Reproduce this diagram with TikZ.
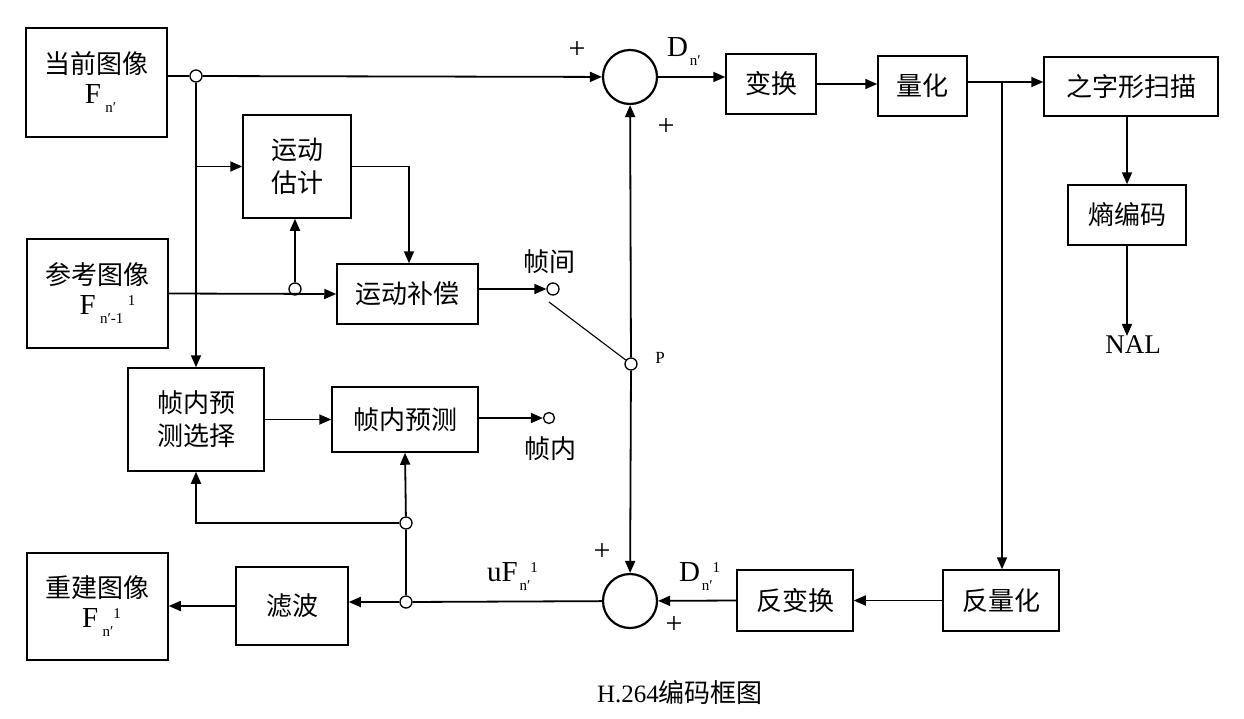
\documentclass[tikz,border=0pt]{standalone}
\usepackage{fontspec}
\setmainfont{Liberation Serif}
\newfontfamily\cjk{Noto Sans CJK SC}
\usetikzlibrary{arrows.meta,calc}
\newcommand{\zh}[1]{{\cjk\fontsize{26}{33}\selectfont #1}}
\newcommand{\bigL}[1]{{\rmfamily\fontsize{29}{33}\selectfont #1}}
\newcommand{\lsub}[1]{\raisebox{-9pt}{\rmfamily\fontsize{15}{15}\selectfont #1}}
\newcommand{\lsupx}[1]{\raisebox{9pt}{\rmfamily\fontsize{15}{15}\selectfont #1}}
\begin{document}
\begin{tikzpicture}[x=1pt,y=-1pt,
  box/.style={draw,line width=1.5pt,inner sep=0pt,align=center,font=\cjk\fontsize{26}{33}\selectfont},
  sum/.style={draw,circle,line width=2.2pt,minimum size=54pt,inner sep=0pt},
  dot/.style={draw,circle,fill=white,line width=1.3pt,minimum size=12pt,inner sep=0pt},
  ln/.style={line width=1.8pt},
  arr/.style={ln,-{Triangle[length=12pt,width=10pt]}},
  lab/.style={inner sep=0pt},
  plus/.style={inner sep=0pt,font=\rmfamily\fontsize{30}{30}\selectfont}
]
\useasboundingbox (0,0) rectangle (1244,718);
% boxes
\node[box,minimum width=141pt,minimum height=109pt] (cur) at (96.5,82.5) {当前图像\\[-3pt]\hspace{8pt}\bigL{F}\,\lsub{n′}};
\node[box,minimum width=141pt,minimum height=109pt] (ref) at (97.5,293.5) {参考图像\\[-3pt]\hspace{20pt}\bigL{F}\,\lsub{n′-1}\,\lsupx{1}};
\node[box,minimum width=141pt,minimum height=107pt] (rec) at (97.5,606.5) {重建图像\\[-3pt]\hspace{8pt}\bigL{F}\,\lsub{n′}\lsupx{1}};
\node[box,minimum width=108pt,minimum height=103pt] (me) at (297,166.5) {运动\\估计};
\node[box,minimum width=141pt,minimum height=60pt] (mc) at (407.5,294) {运动补偿};
\node[box,minimum width=136pt,minimum height=103pt] (ips) at (196,419.5) {帧内预\\测选择};
\node[box,minimum width=146pt,minimum height=65pt] (ip) at (405,419.5) {帧内预测};
\node[box,minimum width=112pt,minimum height=78pt] (flt) at (292,606) {滤波};
\node[box,minimum width=90pt,minimum height=60pt] (tr) at (771,84) {变换};
\node[box,minimum width=89pt,minimum height=60pt] (q) at (922.5,86) {量化};
\node[box,minimum width=174pt,minimum height=59pt] (zz) at (1131,86.5) {之字形扫描};
\node[box,minimum width=118pt,minimum height=60pt] (ent) at (1127,215) {熵编码};
\node[box,minimum width=116pt,minimum height=61pt] (iq) at (1001,600.5) {反量化};
\node[box,minimum width=116pt,minimum height=61pt] (it) at (795,600.5) {反变换};
% sums and dots
\node[sum] (s1) at (630,77) {};
\node[sum] (s2) at (630,601) {};
\node[dot] (d1) at (196,76) {};
\node[dot] (d2) at (295,289) {};
\node[dot] (d3) at (406,523) {};
\node[dot] (d4) at (406,602) {};
\node[dot] (ci) at (553,289) {};
\node[dot,minimum size=11pt] (cn) at (549,418) {};
\node[dot] (p) at (631,364) {};
\coordinate (sw) at (549,302);
\coordinate (b1) at (1002,82);
% labels
\node[plus] (pl1) at (577,50) {+};
\node[plus] (pl2) at (666,127) {+};
\node[plus] (pl3) at (602,552) {+};
\node[plus] (pl4) at (674,625) {+};
\node[lab,anchor=west] (dn) at (667,52) {\bigL{D}\,\lsub{n′}};
\node[lab,anchor=west] (dn1) at (679,576) {\bigL{D}\,\lsub{n′}\lsupx{1}};
\node[lab,anchor=west] (uf) at (487,576) {\bigL{uF}\,\lsub{n′}\lsupx{1}};
\node[lab,font=\fontsize{17}{17}\selectfont] (pp) at (660,358) {P};
\node[lab] (inter) at (549,262) {\zh{帧间}};
\node[lab] (intra) at (550,449) {\zh{帧内}};
\node[lab,font=\fontsize{27}{27}\selectfont] (nal) at (1133,345) {NAL};
\node[lab] (cap) at (680,693) {{\fontsize{25}{25}\selectfont H.264}\zh{编码框图}};
% connectors
\draw[ln] (cur.east |- d1) -- (d1);
\draw[arr] (d1) -- (s1);
\draw[arr] (d1) -- (d1 |- ips.north);
\draw[arr] (d1 |- me.west) -- (me.west);
\draw[arr] (me.east) -| ($(mc.north)+(1.5,0)$);
\draw[arr] (ref.east) -- (mc.west);
\draw[arr] (d2) -- (d2 |- me.south);
\draw[arr] (mc.east |- ci) -- (ci);
\draw[line width=1.1pt] (sw) -- (p);
\draw[arr] (p) -- (s1);
\draw[arr] (p) -- (s2);
\draw[arr] (ips.east) -- (ip.west);
\draw[arr] (ip.east |- cn) -- (cn);
\draw[ln] (s2) -- (d4);
\draw[arr] (d4) -- (flt.east |- d4);
\draw[arr] (flt.west) -- (rec.east |- flt.west);
\draw[ln] (d4) -- (d3);
\draw[arr] (d3) -- (ip.south);
\draw[arr] (d3) -| (ips.south);
\draw[arr] (s1) -- (tr.west |- s1.east);
\draw[arr] (tr.east) -- (q.west |- tr.east);
\draw[ln] (q.east |- b1) -- (b1);
\draw[arr] (b1) -- (zz.west |- b1);
\draw[arr] (b1) -- (b1 |- iq.north);
\draw[arr] (zz.south -| ent.north) -- (ent.north);
\draw[arr] (ent.south) -- (ent.south |- nal.north);
\draw[arr] (iq.west) -- (it.east);
\draw[arr] (it.west) -- (s2);
\end{tikzpicture}
\end{document}
